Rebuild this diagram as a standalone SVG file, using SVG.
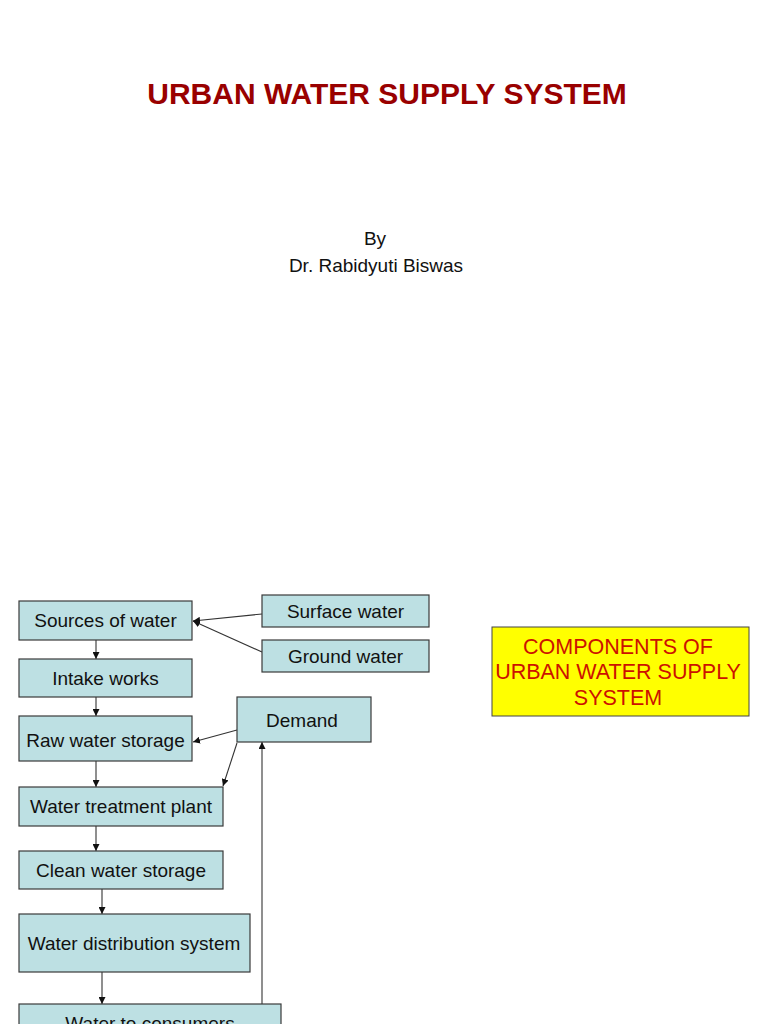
<svg xmlns="http://www.w3.org/2000/svg" width="768" height="1024" viewBox="0 0 768 1024">
<defs>
<style>
.box{fill:#bde0e3;stroke:#3a3a3a;stroke-width:1.2}
.t{font-family:"Liberation Sans",Arial,sans-serif;font-size:19px;fill:#111;text-anchor:middle}
.c{stroke:#333;stroke-width:1.1;fill:none;marker-end:url(#ah)}
</style>
<marker id="ah" viewBox="0 0 10 10" refX="10" refY="5" markerWidth="7" markerHeight="7" markerUnits="userSpaceOnUse" orient="auto">
<path d="M0,0 L10,5 L0,10 z" fill="#111"/>
</marker>
</defs>
<rect width="768" height="1024" fill="#fff"/>
<text x="387" y="104" font-family="'Liberation Sans',Arial,sans-serif" font-size="30" font-weight="bold" fill="#990000" text-anchor="middle">URBAN WATER SUPPLY SYSTEM</text>
<text x="375" y="245" class="t">By</text>
<text x="376" y="272" class="t">Dr. Rabidyuti Biswas</text>

<g id="connectors">
<line class="c" x1="262" y1="614" x2="193" y2="621"/>
<line class="c" x1="262" y1="652" x2="193" y2="621"/>
<line class="c" x1="96" y1="640" x2="96" y2="659"/>
<line class="c" x1="96" y1="697" x2="96" y2="716"/>
<line class="c" x1="237" y1="730" x2="193" y2="742"/>
<line class="c" x1="237" y1="743" x2="223" y2="786"/>
<line class="c" x1="96" y1="761" x2="96" y2="787"/>
<line class="c" x1="96" y1="826" x2="96" y2="851"/>
<line class="c" x1="102" y1="889" x2="102" y2="914"/>
<line class="c" x1="102" y1="972" x2="102" y2="1004"/>
<line class="c" x1="262" y1="1004" x2="262" y2="742"/>
</g>

<g id="sources"><rect class="box" x="19" y="601" width="173" height="39"/><text class="t" x="105.5" y="627">Sources of water</text></g>
<g id="surface"><rect class="box" x="262" y="595" width="167" height="32"/><text class="t" x="345.5" y="618">Surface water</text></g>
<g id="ground"><rect class="box" x="262" y="640" width="167" height="32"/><text class="t" x="345.5" y="663">Ground water</text></g>
<g id="intake"><rect class="box" x="19" y="659" width="173" height="38"/><text class="t" x="105.5" y="685">Intake works</text></g>
<g id="demand"><rect class="box" x="237" y="697" width="134" height="45"/><text class="t" x="302" y="727">Demand</text></g>
<g id="raw"><rect class="box" x="19" y="716" width="173" height="45"/><text class="t" x="105.5" y="747">Raw water storage</text></g>
<g id="wtp"><rect class="box" x="19" y="787" width="204" height="39"/><text class="t" x="121" y="813">Water treatment plant</text></g>
<g id="clean"><rect class="box" x="19" y="851" width="204" height="38"/><text class="t" x="121" y="877">Clean water storage</text></g>
<g id="wds"><rect class="box" x="19" y="914" width="231" height="58"/><text class="t" x="134" y="950">Water distribution system</text></g>
<g id="wtc"><rect class="box" x="19" y="1004" width="262" height="40"/><text class="t" x="150" y="1030">Water to consumers</text></g>

<g id="components">
<rect x="492" y="627" width="257" height="89" fill="#ffff00" stroke="#444" stroke-width="1"/>
<g font-family="'Liberation Sans',Arial,sans-serif" font-size="21.5" fill="#cc1100" text-anchor="middle">
<text x="618" y="654">COMPONENTS OF</text>
<text x="618" y="679">URBAN WATER SUPPLY</text>
<text x="618" y="705">SYSTEM</text>
</g>
</g>
</svg>
